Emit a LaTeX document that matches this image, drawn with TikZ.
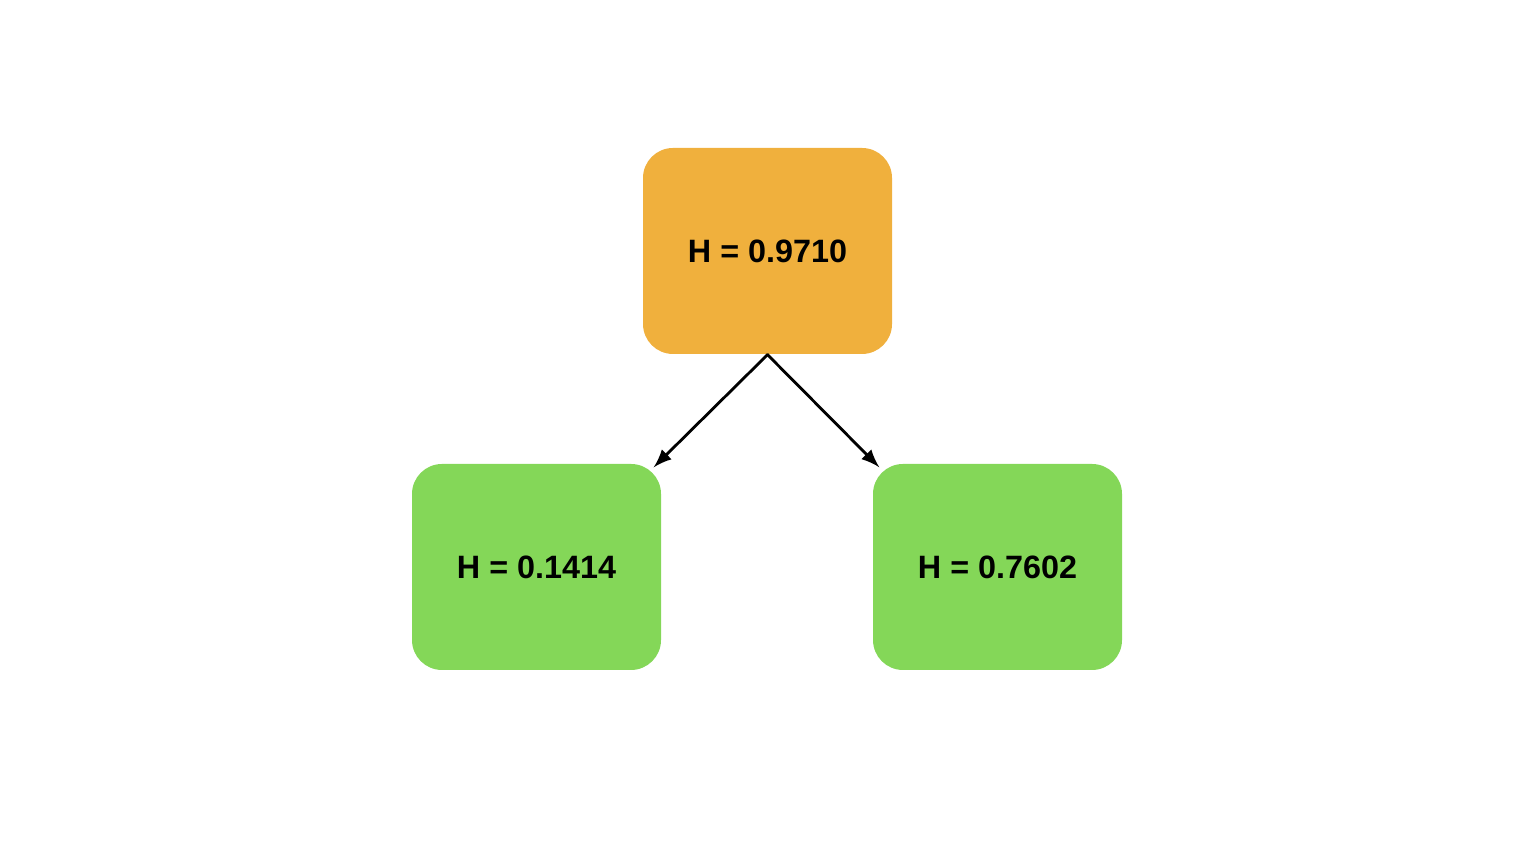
\documentclass[tikz,border=0pt]{standalone}
\usepackage{fontspec}
\setmainfont{Liberation Sans}
\usetikzlibrary{arrows}
\definecolor{entorange}{HTML}{F0B03D}
\definecolor{entgreen}{HTML}{84D758}
\tikzset{
  hbox/.style={rectangle, rounded corners=0.3cm, minimum width=2.49cm, minimum height=2.06cm, inner sep=0pt, font=\fontsize{9.2}{11}\selectfont\bfseries},
  split/.style={draw=black, line width=0.8pt, ->}
}

\begin{document}
\begin{tikzpicture}[line cap=round,line join=round,>=latex,x=1cm,y=1cm]
    \useasboundingbox (0,0) rectangle (15.36,8.64);
    \draw(7.675,6.13) node[hbox, fill=entorange] (H0) {H = 0.9710};
    \draw(5.365,2.97) node[hbox, fill=entgreen] (H1) {H = 0.1414};
    \draw(9.975,2.97) node[hbox, fill=entgreen] (H2) {H = 0.7602};

    % Edges
    \draw[split] (H0.south) -- ([shift={(-0.08,-0.04)}]H1.north east);
    \draw[split] (H0.south) -- ([shift={(0.07,-0.04)}]H2.north west);
\end{tikzpicture}
\end{document}
